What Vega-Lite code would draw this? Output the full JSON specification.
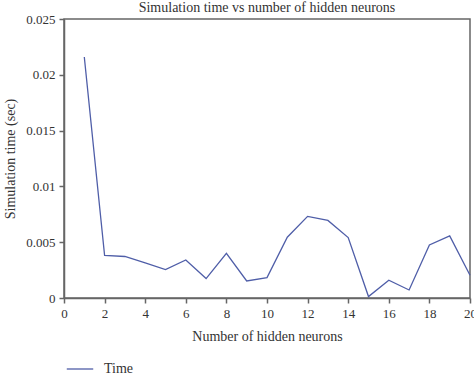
{
  "$schema": "https://vega.github.io/schema/vega-lite/v6.json",
  "width": 406,
  "height": 279,
  "autosize": {"type": "none"},
  "padding": {"left": 64, "top": 19, "right": 4, "bottom": 79},
  "title": {"text": "Simulation time vs number of hidden neurons", "font": "Liberation Serif", "fontSize": 14, "fontWeight": "normal", "color": "#333", "anchor": "middle", "frame": "group", "offset": -2},
  "config": {
    "view": {"stroke": "#666", "strokeWidth": 1.5},
    "font": "Liberation Serif"
  },
  "data": {"values": [
    {"neurons": 1, "time": 0.0216, "series": "Time"},
    {"neurons": 2, "time": 0.00381, "series": "Time"},
    {"neurons": 3, "time": 0.00372, "series": "Time"},
    {"neurons": 4, "time": 0.00314, "series": "Time"},
    {"neurons": 5, "time": 0.00255, "series": "Time"},
    {"neurons": 6, "time": 0.00341, "series": "Time"},
    {"neurons": 7, "time": 0.00174, "series": "Time"},
    {"neurons": 8, "time": 0.00401, "series": "Time"},
    {"neurons": 9, "time": 0.00153, "series": "Time"},
    {"neurons": 10, "time": 0.00183, "series": "Time"},
    {"neurons": 11, "time": 0.00545, "series": "Time"},
    {"neurons": 12, "time": 0.00731, "series": "Time"},
    {"neurons": 13, "time": 0.00695, "series": "Time"},
    {"neurons": 14, "time": 0.00542, "series": "Time"},
    {"neurons": 15, "time": 0.00013, "series": "Time"},
    {"neurons": 16, "time": 0.00159, "series": "Time"},
    {"neurons": 17, "time": 0.00072, "series": "Time"},
    {"neurons": 18, "time": 0.00476, "series": "Time"},
    {"neurons": 19, "time": 0.00557, "series": "Time"},
    {"neurons": 20, "time": 0.00204, "series": "Time"}
  ]},
  "mark": {"type": "line", "strokeWidth": 1.3},
  "encoding": {
    "x": {"field": "neurons", "type": "quantitative", "scale": {"domain": [0, 20], "nice": false},
      "axis": {"title": "Number of hidden neurons", "values": [0,2,4,6,8,10,12,14,16,18,20], "grid": false, "domainColor": "#666", "domainWidth": 1.5, "tickColor": "#666", "tickWidth": 1.5, "tickSize": 5, "labelFontSize": 13, "labelColor": "#333", "labelPadding": 4, "titleFontSize": 14, "titleFontWeight": "normal", "titleColor": "#333", "titlePadding": 9, "labelFont": "Liberation Serif", "titleFont": "Liberation Serif", "labelFlush": false}},
    "y": {"field": "time", "type": "quantitative", "scale": {"domain": [0, 0.025], "nice": false},
      "axis": {"title": "Simulation time (sec)", "values": [0, 0.005, 0.01, 0.015, 0.02, 0.025], "format": "~g", "grid": false, "domainColor": "#666", "domainWidth": 1.5, "tickColor": "#666", "tickWidth": 1.5, "tickSize": 5, "labelFontSize": 13, "labelColor": "#333", "labelPadding": 4, "titleFontSize": 14, "titleFontWeight": "normal", "titleColor": "#333", "titlePadding": 8, "labelFont": "Liberation Serif", "titleFont": "Liberation Serif", "labelFlush": false}},
    "color": {"field": "series", "type": "nominal", "scale": {"range": ["#4f5ea8"]},
      "legend": {"title": null, "orient": "none", "legendX": 2, "legendY": 336, "symbolType": "stroke", "symbolSize": 700, "symbolStrokeWidth": 1.3, "labelFontSize": 14, "labelFont": "Liberation Serif", "labelColor": "#333", "labelOffset": 10}}
  }
}
